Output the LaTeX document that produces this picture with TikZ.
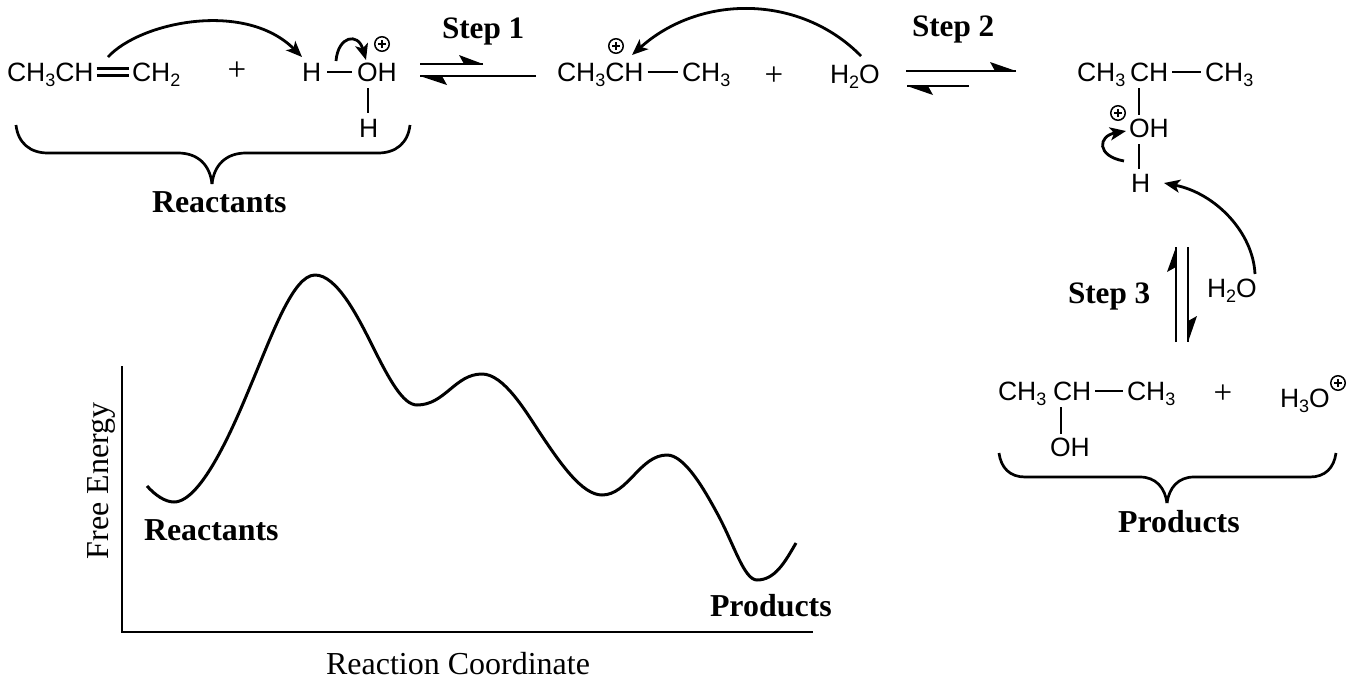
\documentclass[tikz,border=0pt]{standalone}
\usepackage{fontspec}
\setmainfont{Liberation Serif}
\newfontfamily\chemfont{Liberation Sans}
\usetikzlibrary{arrows.meta,calc}
\tikzset{
 chem/.style={inner sep=0pt,outer sep=0pt,anchor=base west,text height=18pt,text depth=0pt,font=\chemfont\fontsize{26.5}{26.5}\selectfont},
 plussign/.style={inner sep=0pt,outer sep=0pt,anchor=center,font=\fontsize{33}{33}\selectfont},
 boldlab/.style={inner sep=0pt,outer sep=0pt,anchor=base west,font=\bfseries\fontsize{31.9}{32}\selectfont},
 steplab/.style={boldlab,font=\bfseries\fontsize{31.2}{32}\selectfont},
 axlab/.style={inner sep=0pt,outer sep=0pt,font=\fontsize{32}{32}\selectfont},
 bond/.style={line width=2.2pt},
 curly/.style={line width=2.8pt,-{Stealth[length=16pt,width=13pt,inset=4pt]}},
 halfeq/.style={line width=2.8pt},
 barb/.style={fill=black,draw=none},
 brace/.style={line width=2.7pt},
 axisline/.style={line width=2.4pt},
 energy/.style={line width=3pt,line join=round},
 chg/.style={circle,draw,line width=1.5pt,minimum size=14.5pt,inner sep=0pt,outer sep=0pt},
}
\newcommand{\plusmark}[1]{\draw[line width=1.9pt] ($(#1)+(-4pt,0)$) -- ($(#1)+(4pt,0)$) ($(#1)+(0,-4pt)$) -- ($(#1)+(0,4pt)$);}
\newcommand{\csub}[1]{\raisebox{-5pt}{\fontsize{18}{18}\selectfont #1}}
\begin{document}
\begin{tikzpicture}[x=1pt,y=-1pt]
\useasboundingbox (0,0) rectangle (1353,686);
% --- row 1
\node[chem] (a1) at (7,81) {CH\csub{3}CH};
\node[chem] (a2) at (132,81) {CH\csub{2}};
\draw[bond] ([xshift=3pt,yshift=3.5pt]a1.east) -- ([xshift=-3pt,yshift=3.5pt]a2.west);
\draw[bond] ([xshift=3pt,yshift=-3.5pt]a1.east) -- ([xshift=-3pt,yshift=-3.5pt]a2.west);
\node[plussign] (p1) at (237,71) {+};
\node[chem] (b1) at (302,81) {H};
\node[chem] (b2) at (357,81) {OH};
\node[chem] (b3) at (359,137) {H};
\draw[bond] ([xshift=6pt]b1.east) -- ([xshift=-5pt]b2.west);
\draw[bond] ([xshift=11pt,yshift=-7pt]b2.south west) -- ([xshift=9pt,yshift=6pt]b3.north west);
\node[chg] (c1) at (382,44) {};
\coordinate (s1) at (108,57); \coordinate (e1) at (302,57);
\draw[curly] (s1) .. controls (140,22) and (245,0) .. (e1);
\coordinate (s2) at (336,61); \coordinate (e2) at (366,60);
\draw[curly] (s2) .. controls (338,36) and (358,32) .. (e2);
\node[steplab] (st1) at (442,38) {Step 1};
\coordinate (q1a) at (420,64); \coordinate (q1b) at (483,64);
\draw[halfeq] (q1a) -- (q1b);
\fill[barb] (q1b) -- (459,55) -- (464,64) -- cycle;
\coordinate (q2a) at (536,76); \coordinate (q2b) at (420,76);
\draw[halfeq] (q2a) -- (q2b);
\fill[barb] (q2b) -- (447,85) -- (442,76) -- cycle;
% brace
\node[boldlab] (rl) at (152,212) {Reactants};
\draw[brace] (16,125) .. controls (18,143) and (30,153) .. (48,153) -- (178,153) .. controls (198,153) and (210,165) .. (212,184);
\draw[brace] (410,125) .. controls (408,143) and (396,153) .. (378,153) -- (246,153) .. controls (226,153) and (214,165) .. (212,184);
% --- row 1 middle
\node[chem] (d1) at (557,81) {CH\csub{3}CH};
\node[chem] (d2) at (682,81) {CH\csub{3}};
\draw[bond] ([xshift=4pt]d1.east) -- ([xshift=-4pt]d2.west);
\node[plussign] (p2) at (774,76) {+};
\node[chem] (w1) at (830,83) {H\csub{2}O};
\node[chg] (c2) at (616,46) {};
\coordinate (s3) at (861,56); \coordinate (e3) at (632,55);
\draw[curly] (s3) .. controls (800,-6) and (700,-6) .. (e3);
\node[steplab] (st2) at (912,36) {Step 2};
\coordinate (q3a) at (906,71); \coordinate (q3b) at (1016,71);
\draw[halfeq] (q3a) -- (q3b);
\fill[barb] (q3b) -- (990,62) -- (995,71) -- cycle;
\coordinate (q4a) at (969,86); \coordinate (q4b) at (907,86);
\draw[halfeq] (q4a) -- (q4b);
\fill[barb] (q4b) -- (933,95) -- (928,86) -- cycle;
% --- right column
\node[chem] (f1) at (1077,81) {CH\csub{3}};
\node[chem] (f2) at (1130,81) {CH};
\node[chem] (f3) at (1205,81) {CH\csub{3}};
\draw[bond] ([xshift=4pt]f2.east) -- ([xshift=-4pt]f3.west);
\node[chem] (f4) at (1129,137) {OH};
\node[chem] (f5) at (1131,192) {H};
\draw[bond] ([xshift=9pt,yshift=-7pt]f2.south west) -- ([xshift=10pt,yshift=4pt]f4.north west);
\draw[bond] ([xshift=10pt,yshift=-7pt]f4.south west) -- ([xshift=8pt,yshift=5pt]f5.north west);
\node[chg] (c3) at (1118,113) {};
\coordinate (s4) at (1124,161); \coordinate (e4) at (1126,131);
\draw[curly] (s4) .. controls (1096,156) and (1098,136) .. (e4);
\node[chem] (w2) at (1207,297) {H\csub{2}O};
\coordinate (s5) at (1255,274); \coordinate (e5) at (1164,183);
\draw[curly] (s5) .. controls (1253,232) and (1215,193) .. (e5);
\node[steplab] (st3) at (1068,303) {Step 3};
\coordinate (q5a) at (1176,342); \coordinate (q5b) at (1176,247);
\draw[halfeq] (q5a) -- (q5b);
\fill[barb] (q5b) -- (1167,272) -- (1176,267) -- cycle;
\coordinate (q6a) at (1188,247); \coordinate (q6b) at (1188,342);
\draw[halfeq] (q6a) -- (q6b);
\fill[barb] (q6b) -- (1197,316) -- (1188,321) -- cycle;
% products
\node[chem] (g1) at (998,400) {CH\csub{3}};
\node[chem] (g2) at (1053,400) {CH};
\node[chem] (g3) at (1127,400) {CH\csub{3}};
\draw[bond] ([xshift=4pt]g2.east) -- ([xshift=-4pt]g3.west);
\node[chem] (g4) at (1050,456) {OH};
\draw[bond] ([xshift=8pt,yshift=-7pt]g2.south west) -- ([xshift=11pt,yshift=4pt]g4.north west);
\node[plussign] (p3) at (1223,394) {+};
\node[chem] (h1) at (1280,407) {H\csub{3}O};
\node[chg] (c4) at (1338,383) {};
\draw[brace] (999,453) .. controls (1001,468) and (1010,477) .. (1025,477) -- (1140,477) .. controls (1156,477) and (1165,488) .. (1167,503);
\draw[brace] (1336,453) .. controls (1334,468) and (1325,477) .. (1310,477) -- (1194,477) .. controls (1178,477) and (1169,488) .. (1167,503);
\node[boldlab] (pl) at (1118,532) {Products};
% --- energy diagram
\coordinate (yt) at (122,366); \coordinate (o) at (122,632); \coordinate (xr) at (813,632);
\draw[axisline] (yt) -- (o) -- (xr);
\node[axlab,rotate=90] (ya) at (101,481) {Free Energy};
\node[axlab] (xa) at (458,664) {Reaction Coordinate};
\node[boldlab] (rl2) at (144,540) {Reactants};
\node[boldlab] (pl2) at (710,616) {Products};
\draw[energy] (147,486) .. controls (155,495) and (165,502) .. (174,502)
 .. controls (202,502) and (235,423) .. (250,387)
 .. controls (272,335) and (293,275) .. (315,275)
 .. controls (337,275) and (358,317) .. (373,347)
 .. controls (389,379) and (403,405) .. (417,405)
 .. controls (445,405) and (455,374) .. (482,374)
 .. controls (504,374) and (526,412) .. (540,433)
 .. controls (560,463) and (582,495) .. (602,495)
 .. controls (628,495) and (640,455) .. (667,455)
 .. controls (685,455) and (705,491) .. (717,513)
 .. controls (734,544) and (744,580) .. (757,580)
 .. controls (775,580) and (785,562) .. (796,543);
\foreach \c in {c1,c2,c3,c4}{\plusmark{\c}}
\end{tikzpicture}
\end{document}
